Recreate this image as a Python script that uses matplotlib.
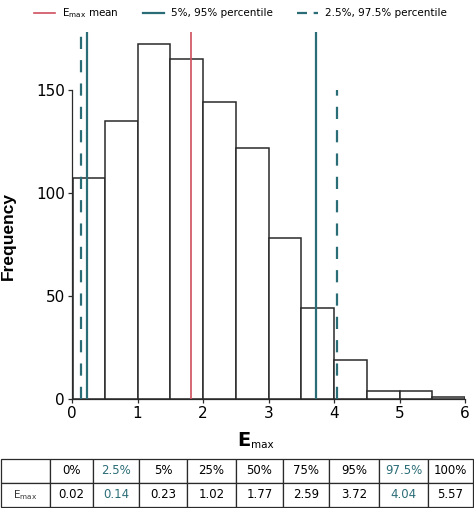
import matplotlib

matplotlib.use("Agg")
import matplotlib.pyplot as plt
from matplotlib.lines import Line2D
import numpy as np

# histogram of Emax (bin edges and counts)
BIN_EDGES = [0.02, 0.5, 1.0, 1.5, 2.0, 2.5, 3.0, 3.5, 4.0, 4.5, 5.0, 5.5, 6.0]
COUNTS = [107, 135, 172, 165, 144, 122, 78, 44, 19, 4, 4, 1]

EMAX_MEAN = 1.82
P5_P95 = [0.23, 3.72]
P25_P975 = [0.14, 4.04]

# summary table
TABLE_HEADERS = ["0%", "2.5%", "5%", "25%", "50%", "75%", "95%", "97.5%", "100%"]
TABLE_VALUES = ["0.02", "0.14", "0.23", "1.02", "1.77", "2.59", "3.72", "4.04", "5.57"]
HIGHLIGHT = ["2.5%", "97.5%"]

TEAL = "#2b6d77"
RED = "#cf4f5d"
EDGE = "#2a2a2a"

plt.rcParams["font.family"] = ["DejaVu Sans"]

W, H = 474, 508
fig = plt.figure(figsize=(W / 100, H / 100), dpi=100)


def px(x0, y0, x1, y1):
    """pixel box (top-left origin) -> figure fraction rect"""
    return [x0 / W, 1 - y1 / H, (x1 - x0) / W, (y1 - y0) / H]


ax = fig.add_axes(px(72, 28, 465, 399))

edges = np.array(BIN_EDGES)
ax.bar(edges[:-1], COUNTS, width=np.diff(edges), align="edge",
       facecolor="white", edgecolor=EDGE, linewidth=1.1, zorder=2)

ax.vlines(EMAX_MEAN, 0, 178, color=RED, linewidth=1.2, zorder=3)
ax.vlines(P5_P95, 0, 178, color=TEAL, linewidth=1.6, zorder=3)
ax.vlines(P25_P975[0], 0, 178, color=TEAL, linewidth=1.6,
          linestyle=(0, (5.5, 5.0)), zorder=3)
ax.vlines(P25_P975[1], 0, 150, color=TEAL, linewidth=1.6,
          linestyle=(0, (5.5, 5.0)), zorder=3)

ax.set_xlim(0, 6)
ax.set_ylim(0, 180)
ax.set_xticks(range(0, 7))
ax.set_yticks([0, 50, 100, 150])
for s in ["top", "right"]:
    ax.spines[s].set_visible(False)
ax.spines["left"].set_bounds(0, 150)
ax.spines["bottom"].set_bounds(0, 6)
for s in ["left", "bottom"]:
    ax.spines[s].set_linewidth(0.9)
    ax.spines[s].set_color(EDGE)
ax.tick_params(direction="out", length=3, width=0.9, color=EDGE,
               labelsize=11, pad=2)

fig.text(8.5 / W, 1 - 236 / H, "Frequency", rotation=90, ha="center",
         va="center", fontsize=12.5, fontweight="bold",
         family="Liberation Sans")
fig.text(244 / W, 1 - 440 / H, "E", ha="center", va="center",
         fontsize=14, fontweight="bold")
fig.text(251 / W, 1 - 445 / H, "max", ha="left", va="center", fontsize=7.5)

handles = [
    Line2D([], [], color=RED, linewidth=1.2),
    Line2D([], [], color=TEAL, linewidth=1.6),
    Line2D([], [], color=TEAL, linewidth=1.6, linestyle=(0, (4.5, 3.0))),
]
labels = [r"E$_{\mathregular{max}}$ mean", "5%, 95% percentile",
          "2.5%, 97.5% percentile"]
fig.legend(handles, labels, ncol=3, loc="upper left",
           bbox_to_anchor=(28 / W, 1 - 0 / H), frameon=False, fontsize=7.5,
           handlelength=2.0, handletextpad=0.7, columnspacing=2.3,
           borderaxespad=0.2)

# table
tax = fig.add_axes(px(1, 459, 473, 507))
tax.set_axis_off()
col_edges = [0, 49, 92, 138, 186, 235, 282, 328, 378, 427, 472]
col_w = np.diff(col_edges) / col_edges[-1]
cells = [[""] + TABLE_HEADERS, ["E$_{\\mathregular{max}}$"] + TABLE_VALUES]
tbl = tax.table(cellText=cells, colWidths=col_w, bbox=[0, 0, 1, 1],
                cellLoc="center")
tbl.auto_set_font_size(False)
for (r, c), cell in tbl.get_celld().items():
    cell.set_edgecolor(EDGE)
    cell.set_linewidth(0.9)
    txt = cell.get_text()
    txt.set_fontsize(8.5)
    if c > 0 and TABLE_HEADERS[c - 1] in HIGHLIGHT:
        txt.set_color(TEAL)
    if c == 0:
        txt.set_fontsize(7.5)
        txt.set_color("#333333")

fig.savefig("out.png", dpi=100)
